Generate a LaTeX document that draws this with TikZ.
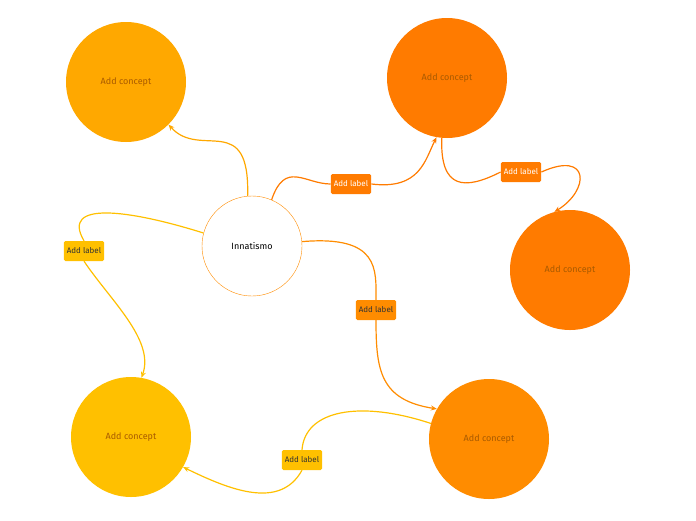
\documentclass[tikz,border=0pt]{standalone}
\usepackage{fontspec}
\setmainfont{Fira Sans}
\usetikzlibrary{arrows.meta}
\definecolor{cA}{HTML}{FFA800}
\definecolor{cB}{HTML}{FF7B00}
\definecolor{cC}{HTML}{FFC000}
\definecolor{cD}{HTML}{FF8C00}
\definecolor{txt}{HTML}{A85A00}
\begin{document}
\begin{tikzpicture}[x=1pt,y=-1pt,
 concept/.style={circle,minimum size=120pt,inner sep=0pt,text=txt,font=\small},
 lab/.style={rounded corners=1.5pt,inner sep=3pt,font=\footnotesize,minimum height=20pt},
 conn/.style={line width=1.2pt},
 arr/.style={conn,-{Stealth[length=6pt,width=5pt]}}]
\useasboundingbox (0,0) rectangle (696,520);
\node[circle,draw=cD,fill=white,minimum size=100pt,inner sep=0pt,font=\small] (c) at (252,246) {Innatismo};
\node[concept,fill=cA] (tl) at (126,82) {Add concept};
\node[concept,fill=cB] (tr) at (447,78) {Add concept};
\node[concept,fill=cB] (r) at (570,270) {Add concept};
\node[concept,fill=cC] (bl) at (131,437) {Add concept};
\node[concept,fill=cD] (br) at (489,439) {Add concept};
\node[lab,fill=cB,text=white] (l1) at (351,184) {Add label};
\node[lab,fill=cB,text=white] (l2) at (521,172) {Add label};
\node[lab,fill=cC,text=black!80] (l3) at (84,251) {Add label};
\node[lab,fill=cD,text=black!80] (l4) at (376,310) {Add label};
\node[lab,fill=cC,text=black!80] (l5) at (302,460) {Add label};
\draw[arr,draw=cA] (c.95) .. controls (250,110) and (200,160) .. (tl.-45);
\draw[conn,draw=cB] (c.67) .. controls (285,160) and (305,184) .. (l1.west);
\draw[arr,draw=cB] (l1.east) .. controls (420,190) and (425,160) .. (tr.-100);
\draw[conn,draw=cB] (tr.-95) .. controls (440,190) and (465,190) .. (l2.west);
\draw[arr,draw=cB] (l2.east) .. controls (590,150) and (590,190) .. (r.105);
\draw[conn,draw=cC] (c.165) .. controls (130,210) and (60,200) .. (l3.north);
\draw[arr,draw=cC] (l3.south) .. controls (110,300) and (155,340) .. (bl.80);
\draw[conn,draw=cD] (c.5) .. controls (380,235) and (376,270) .. (l4.north);
\draw[arr,draw=cD] (l4.south) .. controls (376,370) and (380,400) .. (br.150);
\draw[conn,draw=cC] (br.165) .. controls (360,400) and (305,410) .. (l5.north);
\draw[arr,draw=cC] (l5.south) .. controls (280,510) and (230,490) .. (bl.-30);
\end{tikzpicture}
\end{document}
